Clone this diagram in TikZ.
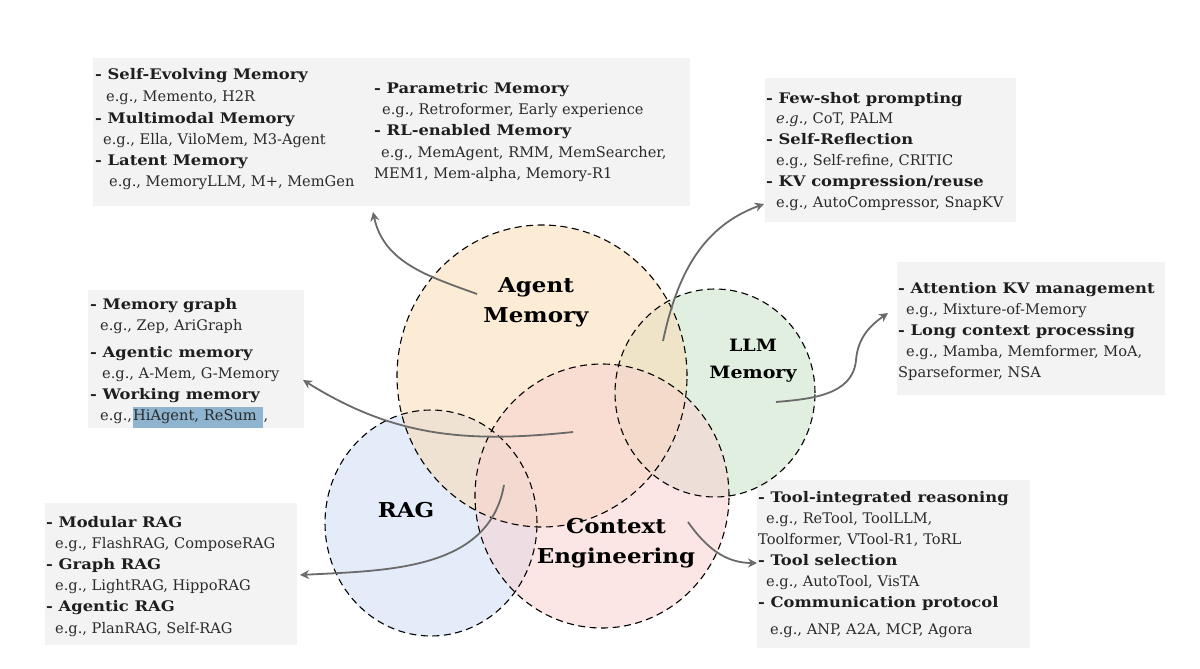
\documentclass[tikz,border=0pt]{standalone}
\usepackage{fontspec}
\setmainfont{DejaVu Serif}[BoldFeatures={FakeStretch=1.12}]
\usetikzlibrary{arrows.meta}
\definecolor{boxgray}{HTML}{F3F3F3}
\definecolor{headcol}{HTML}{1E1E1E}
\definecolor{bodycol}{HTML}{2A2A2A}
\definecolor{arrowgray}{HTML}{6A6A6A}
\definecolor{hlblue}{HTML}{8FB4D0}
\definecolor{agentfill}{HTML}{FBDBB4}
\definecolor{llmfill}{HTML}{CAE2C7}
\definecolor{ctxfill}{HTML}{F8D2D0}
\definecolor{ragfill}{HTML}{CEDEF6}
\begin{document}
\begin{tikzpicture}[x=1pt,y=1pt,
  infobox/.style={fill=boxgray, draw=none, inner sep=0pt, anchor=north west},
  hd/.style={anchor=base west, inner sep=0pt, font=\fontsize{14.6}{17}\selectfont\bfseries, text=headcol},
  eg/.style={anchor=base west, inner sep=0pt, font=\fontsize{14.6}{17}\selectfont, text=bodycol},
  circborder/.style={draw=black, line width=1.1pt, dash pattern=on 7pt off 4.5pt},
  circfill/.style={fill opacity=0.55, draw=none},
  lbl/.style={align=center, inner sep=0pt, text=black, font=\fontsize{20.5}{30}\selectfont\bfseries},
  conn/.style={draw=arrowgray, line width=1.8pt, -{Stealth[open,length=9pt,width=9pt]}}
]
\useasboundingbox (0,0) rectangle (1200,-669);
\fill[white] (0,0) rectangle (1200,-669);

% ---------- boxes ----------
\node[infobox, minimum width=597pt, minimum height=148pt] (boxA) at (93,-58) {};
\node[infobox, minimum width=251pt, minimum height=144pt] (boxB) at (765,-78) {};
\node[infobox, minimum width=268pt, minimum height=133pt] (boxC) at (897,-262) {};
\node[infobox, minimum width=216pt, minimum height=138pt] (boxD) at (88,-290) {};
\node[infobox, minimum width=252pt, minimum height=142pt] (boxE) at (45,-503) {};
\node[infobox, minimum width=273pt, minimum height=168pt] (boxF) at (757,-480) {};

% ---------- circles ----------
\coordinate (cA) at (542,-376);
\coordinate (cL) at (715,-393);
\coordinate (cC) at (602,-496);
\coordinate (cR) at (431,-523);
\fill[circfill, ragfill] (cR) ellipse [x radius=106, y radius=113];
\fill[circfill, llmfill] (cL) ellipse [x radius=100, y radius=104];
\fill[circfill, agentfill] (cA) ellipse [x radius=145, y radius=151];
\fill[circfill, ctxfill] (cC) ellipse [x radius=127, y radius=132];
\draw[circborder] (cR) ellipse [x radius=106, y radius=113];
\draw[circborder] (cL) ellipse [x radius=100, y radius=104];
\draw[circborder] (cA) ellipse [x radius=145, y radius=151];
\draw[circborder] (cC) ellipse [x radius=127, y radius=132];

% ---------- circle labels ----------
\node[lbl] (agentlbl) at (536,-302) {Agent\\Memory};
\node[lbl, font=\fontsize{17}{27}\selectfont\bfseries] (llmlbl) at (753,-361) {LLM\\Memory};
\node[lbl, font=\fontsize{20.5}{24}\selectfont\bfseries] (raglbl) at (406,-510) {RAG};
\node[lbl] (ctxlbl) at (616,-543) {Context\\Engineering};

% ---------- box A texts ----------
\node[hd] (a1) at (95,-80) {- Self-Evolving Memory};
\node[eg] (a2) at (106,-102) {e.g., Memento, H2R};
\node[hd] (a3) at (95,-123) {- Multimodal Memory};
\node[eg] (a4) at (103,-144) {e.g., Ella, ViloMem, M3-Agent};
\node[hd] (a5) at (95,-165) {- Latent Memory};
\node[eg] (a6) at (109,-186) {e.g., MemoryLLM, M+, MemGen};
\node[hd] (a7) at (374,-93) {- Parametric Memory};
\node[eg] (a8) at (382,-114) {e.g., Retroformer, Early experience};
\node[hd] (a9) at (374,-135) {- RL-enabled Memory};
\node[eg] (a10) at (381,-157) {e.g., MemAgent, RMM, MemSearcher,};
\node[eg] (a11) at (374,-178) {MEM1, Mem-alpha, Memory-R1};

% ---------- box B texts ----------
\node[hd] (b1) at (766,-103) {- Few-shot prompting};
\node[eg] (b2) at (776,-123) {\textit{e.g.}, CoT, PALM};
\node[hd] (b3) at (766,-144) {- Self-Reflection};
\node[eg] (b4) at (776,-165) {e.g., Self-refine, CRITIC};
\node[hd] (b5) at (766,-186) {- KV compression/reuse};
\node[eg] (b6) at (776,-207) {e.g., AutoCompressor, SnapKV};

% ---------- box C texts ----------
\node[hd] (c1) at (898,-293) {- Attention KV management};
\node[eg] (c2) at (906,-314) {e.g., Mixture-of-Memory};
\node[hd] (c3) at (898,-335) {- Long context processing};
\node[eg] (c4) at (906,-356) {e.g., Mamba, Memformer, MoA,};
\node[eg] (c5) at (898,-377) {Sparseformer, NSA};

% ---------- box D texts ----------
\node[hd] (d1) at (90,-309) {- Memory graph};
\node[eg] (d2) at (100,-330) {e.g., Zep, AriGraph};
\node[hd] (d3) at (90,-357) {- Agentic memory};
\node[eg] (d4) at (102,-378) {e.g., A-Mem, G-Memory};
\node[hd] (d5) at (90,-399) {- Working memory};
\node[eg] (d6) at (100,-420) {e.g.,};
\node[eg, fill=hlblue, inner xsep=0pt, inner ysep=0pt, text height=13pt, text depth=8pt, text width=130pt, align=left, anchor=base west] (d7) at (133,-420) {HiAgent, ReSum};
\node[eg, anchor=base west] (d8) at (d7.base east) {,};

% ---------- box E texts ----------
\node[hd] (e1) at (46,-527) {- Modular RAG};
\node[eg] (e2) at (55,-548) {e.g., FlashRAG, ComposeRAG};
\node[hd] (e3) at (46,-569) {- Graph RAG};
\node[eg] (e4) at (55,-590) {e.g., LightRAG, HippoRAG};
\node[hd] (e5) at (46,-611) {- Agentic RAG};
\node[eg] (e6) at (55,-633) {e.g., PlanRAG, Self-RAG};

% ---------- box F texts ----------
\node[hd] (f1) at (758,-502) {- Tool-integrated reasoning};
\node[eg] (f2) at (766,-523) {e.g., ReTool, ToolLLM,};
\node[eg] (f3) at (758,-544) {Toolformer, VTool-R1, ToRL};
\node[hd] (f4) at (758,-565) {- Tool selection};
\node[eg] (f5) at (766,-586) {e.g., AutoTool, VisTA};
\node[hd] (f6) at (758,-607) {- Communication protocol};
\node[eg] (f7) at (770,-634) {e.g., ANP, A2A, MCP, Agora};

% ---------- connectors ----------
\coordinate (s1) at (477,-294);
\coordinate (t1) at (373,-212);
\coordinate (s2) at (663,-341);
\coordinate (t2) at (764,-204);
\coordinate (s3) at (776,-402);
\coordinate (m3) at (856,-360);
\coordinate (t3) at (888,-313);
\coordinate (s4) at (573,-432);
\coordinate (t4) at (303,-380);
\coordinate (s5) at (504,-485);
\coordinate (t5) at (300,-575);
\coordinate (s6) at (688,-522);
\coordinate (t6) at (757,-563);

\draw[conn] (s1) to[out=160,in=-78] (t1);
\draw[conn] (s2) to[out=78,in=200] (t2);
\draw[conn] (s3) to[out=5,in=-95] (m3) to[out=85,in=215] (t3);
\draw[conn] (s4) to[out=186,in=-32] (t4);
\draw[conn] (s5) to[out=-100,in=3] (t5);
\draw[conn] (s6) to[out=-55,in=180] (t6);
\end{tikzpicture}
\end{document}
